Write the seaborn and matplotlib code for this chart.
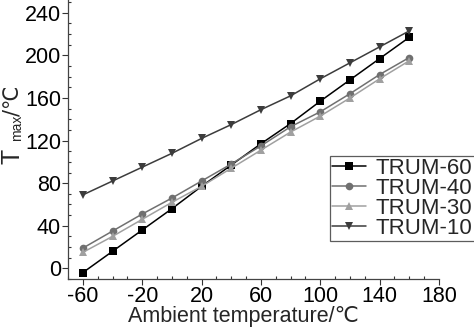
import numpy as np
import pandas as pd
import matplotlib
matplotlib.use("Agg")
import matplotlib.pyplot as plt
import seaborn as sns
from matplotlib.ticker import MultipleLocator

ambient = [-60, -40, -20, 0, 20, 40, 60, 80, 100, 120, 140, 160]
trum60 = [-4, 16, 36, 56, 77, 97, 117, 136, 157, 177, 197, 217]
trum40 = [19, 35, 51, 66, 82, 98, 115, 133, 147, 164, 182, 198]
trum30 = [15, 30, 46, 62, 77, 94, 111, 128, 143, 160, 178, 195]
trum10 = [69, 82, 95, 108, 122, 135, 149, 162, 178, 193, 208, 223]
series_names = ["TRUM-60", "TRUM-40", "TRUM-30", "TRUM-10"]
series_values = [trum60, trum40, trum30, trum10]

rows = []
for name, vals in zip(series_names, series_values):
    for x, y in zip(ambient, vals):
        rows.append({"x": x, "y": y, "series": name})
df = pd.DataFrame(rows)

sns.set_style("ticks")
plt.rcParams['font.family'] = ['Liberation Sans', 'DejaVu Sans']
plt.rcParams['axes.unicode_minus'] = False

palette = {"TRUM-60": "#000000", "TRUM-40": "#707070", "TRUM-30": "#a0a0a0", "TRUM-10": "#3c3c3c"}
markers = {"TRUM-60": "s", "TRUM-40": "o", "TRUM-30": "^", "TRUM-10": "v"}

W, H = 474, 328
fig = plt.figure(figsize=(W / 100, H / 100), dpi=100)
ax = fig.add_axes([68 / W, 1 - 279 / H, (439 - 68) / W, 279 / H])
sns.lineplot(data=df, x="x", y="y", hue="series", style="series", markers=markers,
             dashes=False, palette=palette, ax=ax, markersize=5.5, linewidth=1.1,
             markeredgewidth=0, hue_order=series_names, style_order=series_names)

ax.set_xlim(-70, 180)
ax.set_ylim(-10, 252)
ax.set_xticks([-60, -20, 20, 60, 100, 140, 180])
ax.set_yticks([0, 40, 80, 120, 160, 200, 240])
ax.xaxis.set_minor_locator(MultipleLocator(10))
ax.yaxis.set_minor_locator(MultipleLocator(10))
ax.tick_params(axis='both', which='major', labelsize=15.5, length=4, width=0.8, pad=1,
               colors='#333333', direction='out')
ax.tick_params(axis='both', which='minor', length=2.5, width=0.8, colors='#333333', direction='in')
for lab in ax.get_xticklabels() + ax.get_yticklabels():
    lab.set_color('black')
for side in ['top', 'right']:
    ax.spines[side].set_visible(False)
for side in ['left', 'bottom']:
    ax.spines[side].set_color('#444444')
    ax.spines[side].set_linewidth(0.9)

ax.set_xlabel("Ambient temperature/℃", fontsize=15.5)
ax.xaxis.set_label_coords(0.472, -0.098)
ax.set_ylabel("")

# y-axis label built from pieces: T, subscript "max", "/℃"
base_x = 19 / W
fig.text(base_x, 1 - 164 / H, "T", rotation=90, rotation_mode='anchor',
         ha='left', va='baseline', fontsize=18)
fig.text(base_x + 2 / W, 1 - 141 / H, "max", rotation=90, rotation_mode='anchor',
         ha='left', va='baseline', fontsize=10)
fig.text(base_x, 1 - 116 / H, "/℃", rotation=90, rotation_mode='anchor',
         ha='left', va='baseline', fontsize=15, family=['DejaVu Sans'])

leg = ax.legend(loc='upper left', bbox_to_anchor=(330 / W, 1 - 156 / H), bbox_transform=fig.transFigure,
                fontsize=16, frameon=True, fancybox=False, labelspacing=-0.05,
                handlelength=1.5, handletextpad=0.45, borderpad=0.1, borderaxespad=0)
leg.get_frame().set_edgecolor('#333333')
leg.get_frame().set_linewidth(0.9)

fig.savefig("out.png", dpi=100)
